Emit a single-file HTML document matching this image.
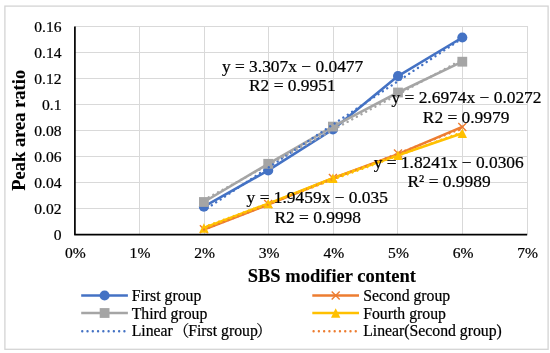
<!DOCTYPE html>
<html><head><meta charset="utf-8"><title>chart</title>
<style>
html,body{margin:0;padding:0;background:#fff;}
body{width:550px;height:353px;overflow:hidden;}
svg{display:block;}
text{font-family:"Liberation Serif","Noto Serif CJK SC",serif;fill:#000;stroke:#000;stroke-width:0.22px;}
.t{font-size:15.6px;}
.b{font-size:18.5px;font-weight:bold;stroke-width:0.1px;}
.e{font-size:17.4px;}
.l{font-size:15.75px;}
</style></head><body>
<svg width="550" height="353" viewBox="0 0 550 353">
<rect x="0" y="0" width="550" height="353" fill="#fff"/>
<rect x="4.9" y="6.1" width="543.2" height="343.2" fill="#fff" stroke="#d4d4d4" stroke-width="1.3"/>
<path d="M74.9 208.50H528M74.9 182.50H528M74.9 156.50H528M74.9 130.50H528M74.9 104.50H528M74.9 78.50H528M74.9 52.50H528M74.9 26.50H528M139.50 26V234.7M204.50 26V234.7M268.50 26V234.7M333.50 26V234.7M397.50 26V234.7M462.50 26V234.7M527.50 26V234.7" stroke="#d9d9d9" stroke-width="1" fill="none"/>
<path d="M74.9 26.50V234.7H527.17" stroke="#000" stroke-width="1.7" stroke-linejoin="round" fill="none"/>
<text class="t" x="61.5" y="240.0" text-anchor="end">0</text>
<text class="t" x="61.5" y="213.9" text-anchor="end">0.02</text>
<text class="t" x="61.5" y="187.9" text-anchor="end">0.04</text>
<text class="t" x="61.5" y="161.9" text-anchor="end">0.06</text>
<text class="t" x="61.5" y="135.8" text-anchor="end">0.08</text>
<text class="t" x="61.5" y="109.7" text-anchor="end">0.1</text>
<text class="t" x="61.5" y="83.7" text-anchor="end">0.12</text>
<text class="t" x="61.5" y="57.6" text-anchor="end">0.14</text>
<text class="t" x="61.5" y="31.6" text-anchor="end">0.16</text>
<text class="t" x="75.4" y="258.3" text-anchor="middle">0%</text>
<text class="t" x="140.0" y="258.3" text-anchor="middle">1%</text>
<text class="t" x="204.6" y="258.3" text-anchor="middle">2%</text>
<text class="t" x="269.2" y="258.3" text-anchor="middle">3%</text>
<text class="t" x="333.8" y="258.3" text-anchor="middle">4%</text>
<text class="t" x="398.5" y="258.3" text-anchor="middle">5%</text>
<text class="t" x="463.1" y="258.3" text-anchor="middle">6%</text>
<text class="t" x="527.7" y="258.3" text-anchor="middle">7%</text>
<text class="b" x="331.8" y="282.2" text-anchor="middle">SBS modifier content</text>
<text class="b" transform="translate(24.9,130.3) rotate(-90)" text-anchor="middle">Peak area ratio</text>
<polyline points="203.9,206.7 268.2,170.4 332.9,129.4 398.0,76.1 462.3,37.5" fill="none" stroke="#4472c4" stroke-width="2.6" stroke-linejoin="round" stroke-linecap="round"/>
<circle cx="203.9" cy="206.7" r="5.05" fill="#4472c4"/>
<circle cx="268.2" cy="170.4" r="5.05" fill="#4472c4"/>
<circle cx="332.9" cy="129.4" r="5.05" fill="#4472c4"/>
<circle cx="398.0" cy="76.1" r="5.05" fill="#4472c4"/>
<circle cx="462.3" cy="37.5" r="5.05" fill="#4472c4"/>
<polyline points="203.9,229.6 268.2,204.5 332.9,178.2 398.0,154.1 462.3,126.9" fill="none" stroke="#ed7d31" stroke-width="2.6" stroke-linejoin="round" stroke-linecap="round"/>
<path d="M199.9 225.2L207.9 233.2M199.9 233.2L207.9 225.2" stroke="#ed7d31" stroke-width="1.4" fill="none"/>
<path d="M264.2 200.0L272.2 208.0M264.2 208.0L272.2 200.0" stroke="#ed7d31" stroke-width="1.4" fill="none"/>
<path d="M328.9 174.0L336.9 182.0M328.9 182.0L336.9 174.0" stroke="#ed7d31" stroke-width="1.4" fill="none"/>
<path d="M394.0 149.6L402.0 157.6M394.0 157.6L402.0 149.6" stroke="#ed7d31" stroke-width="1.4" fill="none"/>
<path d="M458.3 122.9L466.3 130.9M458.3 130.9L466.3 122.9" stroke="#ed7d31" stroke-width="1.4" fill="none"/>
<polyline points="203.9,202.0 268.2,163.8 332.9,126.6 398.0,92.5 462.3,61.7" fill="none" stroke="#a5a5a5" stroke-width="2.6" stroke-linejoin="round" stroke-linecap="round"/>
<rect x="199.0" y="197.1" width="9.8" height="9.8" fill="#a5a5a5"/>
<rect x="263.3" y="158.9" width="9.8" height="9.8" fill="#a5a5a5"/>
<rect x="328.0" y="121.7" width="9.8" height="9.8" fill="#a5a5a5"/>
<rect x="393.1" y="87.6" width="9.8" height="9.8" fill="#a5a5a5"/>
<rect x="457.4" y="56.8" width="9.8" height="9.8" fill="#a5a5a5"/>
<polyline points="203.9,228.0 268.2,203.6 332.9,178.3 398.0,155.2 462.3,133.3" fill="none" stroke="#ffc000" stroke-width="2.6" stroke-linejoin="round" stroke-linecap="round"/>
<path d="M203.9 223.3L208.6 232.7H199.2Z" fill="#ffc000"/>
<path d="M268.2 198.9L272.9 208.3H263.5Z" fill="#ffc000"/>
<path d="M332.9 173.6L337.6 183.0H328.2Z" fill="#ffc000"/>
<path d="M398.0 150.5L402.7 159.9H393.3Z" fill="#ffc000"/>
<path d="M462.3 128.6L467.0 138.0H457.6Z" fill="#ffc000"/>
<line x1="204.1" y1="210.4" x2="462.6" y2="38.1" stroke="#4472c4" stroke-width="2.4" stroke-linecap="round" stroke-dasharray="0.01 5.26" stroke-dashoffset="1.28"/>
<line x1="204.1" y1="229.6" x2="462.6" y2="128.2" stroke="#ed7d31" stroke-width="2.4" stroke-linecap="round" stroke-dasharray="0.01 5.26" stroke-dashoffset="0"/>
<line x1="204.1" y1="199.9" x2="462.6" y2="59.3" stroke="#a5a5a5" stroke-width="2.4" stroke-linecap="round" stroke-dasharray="0.01 5.26" stroke-dashoffset="0"/>
<line x1="204.1" y1="227.0" x2="462.6" y2="132.0" stroke="#ffc000" stroke-width="2.4" stroke-linecap="round" stroke-dasharray="0.01 5.26" stroke-dashoffset="0"/>
<text class="e" x="292.6" y="71.7" text-anchor="middle">y = 3.307x − 0.0477</text>
<text class="e" x="292.3" y="90.7" text-anchor="middle">R2 = 0.9951</text>
<text class="e" x="466.5" y="103.4" text-anchor="middle">y = 2.6974x − 0.0272</text>
<text class="e" x="466.1" y="122.6" text-anchor="middle">R2 = 0.9979</text>
<text class="e" x="448.7" y="167.6" text-anchor="middle">y = 1.8241x − 0.0306</text>
<text class="e" x="449.1" y="187.2" text-anchor="middle">R² = 0.9989</text>
<text class="e" x="317.3" y="202.8" text-anchor="middle">y = 1.9459x − 0.035</text>
<text class="e" x="317.7" y="223.4" text-anchor="middle">R2 = 0.9998</text>
<line x1="81.2" y1="295.5" x2="127.9" y2="295.5" stroke="#4472c4" stroke-width="2.3"/><circle cx="104.6" cy="295.5" r="5.05" fill="#4472c4"/><text class="l" x="131.7" y="300.6">First group</text>
<line x1="81.2" y1="313.0" x2="127.9" y2="313.0" stroke="#a5a5a5" stroke-width="2.3"/><rect x="99.7" y="308.1" width="9.8" height="9.8" fill="#a5a5a5"/><text class="l" x="131.7" y="318.5">Third group</text>
<line x1="82.25" y1="331.2" x2="124.51" y2="331.2" stroke="#4472c4" stroke-width="2.4" stroke-linecap="round" stroke-dasharray="0.01 5.26"/><text class="l" x="131.7" y="335.7"><tspan x="131.7">Linear</tspan><tspan x="173.6">（</tspan><tspan x="188.2">First group</tspan><tspan x="256.2">）</tspan></text>
<line x1="312.3" y1="295.5" x2="359.0" y2="295.5" stroke="#ed7d31" stroke-width="2.3"/><path d="M331.7 291.5L339.7 299.5M331.7 299.5L339.7 291.5" stroke="#ed7d31" stroke-width="1.4" fill="none"/><text class="l" x="363.2" y="300.6">Second group</text>
<line x1="312.3" y1="313.0" x2="359.0" y2="313.0" stroke="#ffc000" stroke-width="2.3"/><path d="M335.7 308.3L340.4 317.7H331.0Z" fill="#ffc000"/><text class="l" x="363.2" y="318.5">Fourth group</text>
<line x1="313.60" y1="331.2" x2="355.86" y2="331.2" stroke="#ed7d31" stroke-width="2.4" stroke-linecap="round" stroke-dasharray="0.01 5.26"/><text class="l" x="363.2" y="335.7">Linear(Second group)</text>
</svg></body></html>
